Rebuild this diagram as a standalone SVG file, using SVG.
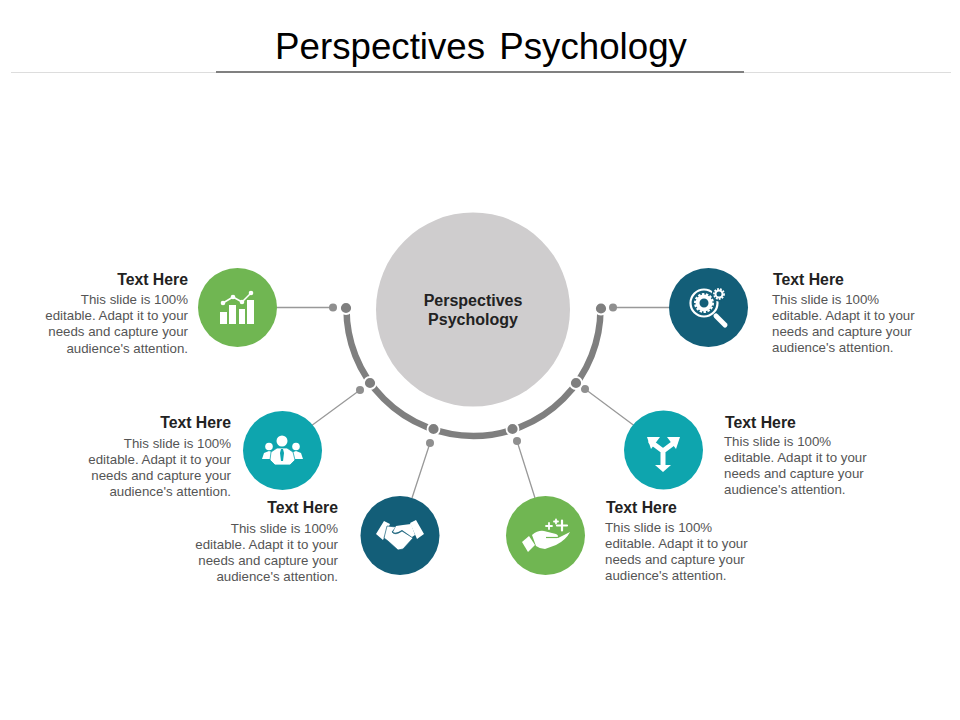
<svg xmlns="http://www.w3.org/2000/svg" width="960" height="720" viewBox="0 0 960 720">
<style>
text{font-family:"Liberation Sans",Arial,sans-serif}
.t{font-size:36.700px;fill:#000;text-anchor:middle;word-spacing:4px}
.c{font-size:16px;font-weight:bold;fill:#222;text-anchor:middle}
.h{font-size:15.800px;font-weight:bold;fill:#222}
.b{font-size:13.300px;fill:#555}
.e{text-anchor:end}
.lk{stroke:#999;stroke-width:1.300;fill:none}
.dot{fill:#8f8f8f}
.big{fill:#7f7f7f;stroke:#fff;stroke-width:1.800}
.arc{fill:none;stroke:#7f7f7f;stroke-width:6.500}
.w{fill:#fff}
.ws{fill:none;stroke:#fff;stroke-linecap:round;stroke-linejoin:round}
.green{fill:#70b652}.teal{fill:#0ea5ae}.navy{fill:#135e78}
</style>
<g id="title">
<rect x="11" y="72" width="940" height="1" fill="#ddd"/>
<rect x="216" y="71" width="528" height="2" fill="#808080"/>
<text class="t" x="481" y="59">Perspectives Psychology</text>
</g>
<g id="connectors">
<path class="arc" d="M346.500 309A127 127 0 0 0 600.500 309"/>
<path class="lk" d="M277 307.500H333M311 426L360 390M412 498L430 443M535 498L517 441M636 427L585 389M669 307.500H613"/>
<circle class="dot" cx="333" cy="307.500" r="4"/>
<circle class="dot" cx="360" cy="390" r="4"/>
<circle class="dot" cx="430" cy="443" r="4"/>
<circle class="dot" cx="517" cy="441" r="4"/>
<circle class="dot" cx="585" cy="389" r="4"/>
<circle class="dot" cx="613" cy="307.500" r="4"/>
<circle class="big" cx="346" cy="308" r="6"/>
<circle class="big" cx="370" cy="383" r="6"/>
<circle class="big" cx="433.500" cy="429" r="6"/>
<circle class="big" cx="512.500" cy="429" r="6"/>
<circle class="big" cx="576" cy="383" r="6"/>
<circle class="big" cx="601" cy="308.500" r="6"/>
</g>
<g id="center">
<circle cx="473" cy="309.500" r="97" fill="#cfcdce"/>
<text class="c" x="473" y="305.500">Perspectives</text>
<text class="c" x="473" y="324.500">Psychology</text>
</g>
<g id="node-1">
<circle class="green" cx="237.500" cy="307.500" r="39.500"/>
<path class="w" d="M220 312h7v12h-7zM229 305h7v19h-7zM239 309h6v15h-6zM247 300h7v24h-7z"/>
<path class="ws" stroke-width="1.500" d="M223 303L233 297L242 302L251 293"/>
<circle class="w" cx="223" cy="303" r="2.300"/><circle class="w" cx="233" cy="297" r="2.300"/><circle class="w" cx="242" cy="302" r="2.300"/><circle class="w" cx="251" cy="293" r="2.300"/>
<text class="h e" x="188" y="284.500">Text Here</text>
<text class="b e" x="188" y="304">This slide is 100%</text>
<text class="b e" x="188" y="320">editable. Adapt it to your</text>
<text class="b e" x="188" y="336">needs and capture your</text>
<text class="b e" x="188" y="353">audience's attention.</text>
</g>
<g id="node-2">
<circle class="teal" cx="282.500" cy="450.500" r="39.500"/>
<path class="w" d="M262 459L264 453L269 451L274 453V459ZM303 459L301 453L296 451L291 453V459Z"/>
<circle class="w" cx="269" cy="446.500" r="3.800"/><circle class="w" cx="296" cy="446.500" r="3.800"/>
<path class="w" d="M270 460L271 452L277 448H287L293 452L295 460L290 465H275Z" stroke="#0ea5ae" stroke-width="0.800"/>
<circle class="w" cx="282" cy="441" r="5.500"/>
<path d="M281 449h2l1 4l-1 8h-2l-1-8z" fill="#0ea5ae"/>
<text class="h e" x="231" y="427.500">Text Here</text>
<text class="b e" x="231" y="448">This slide is 100%</text>
<text class="b e" x="231" y="464">editable. Adapt it to your</text>
<text class="b e" x="231" y="480">needs and capture your</text>
<text class="b e" x="231" y="496">audience's attention.</text>
</g>
<g id="node-3">
<circle class="navy" cx="400" cy="535.500" r="39.500"/>
<path class="w" d="M376 534L384 521L390 524L383 540ZM424 534L416 520L410 523L417 539Z"/>
<path class="w" d="M387 526L396 527L392 532Q395 536 402 531L413 538L403 549L398 550L388 541L384 538Z" stroke="#135e78" stroke-width="0.700"/>
<path class="w" d="M396 526L403 525L411 524L415 535L412 537L402 530Q396 534 393 532Z"/>
<text class="h e" x="338" y="512.500">Text Here</text>
<text class="b e" x="338" y="533">This slide is 100%</text>
<text class="b e" x="338" y="549">editable. Adapt it to your</text>
<text class="b e" x="338" y="565">needs and capture your</text>
<text class="b e" x="338" y="581">audience's attention.</text>
</g>
<g id="node-4">
<circle class="green" cx="545.500" cy="535.500" r="39.500"/>
<path class="w" d="M522 542L529 536L535 545L528 552Z"/>
<path class="w" d="M532 535Q538 530 544 531L556 534Q560 536 556 538L546 538L558 538L570 532Q566 540 556 545L545 549Q540 549 536 546Z"/>
<path d="M546 537.500H557" stroke="#70b652" stroke-width="1.200"/>
<path class="ws" stroke-width="1.800" stroke-linecap="butt" d="M546 526h6M549 523v6M554 521.500h4M556 519.500v4"/>
<path class="ws" stroke-width="2.200" stroke-linecap="butt" d="M557 525.500h10M562 520.500v10"/>
<text class="h" x="606" y="512.500">Text Here</text>
<text class="b" x="605" y="532">This slide is 100%</text>
<text class="b" x="605" y="548">editable. Adapt it to your</text>
<text class="b" x="605" y="564">needs and capture your</text>
<text class="b" x="605" y="580">audience's attention.</text>
</g>
<g id="node-5">
<circle class="teal" cx="663.500" cy="450" r="39.500"/>
<path class="ws" stroke-width="5" stroke-linecap="butt" d="M663 466V451L651 442M663 451L675 442"/>
<path class="w" d="M647 437L660 437L651 449ZM680 437L667 437L676 449ZM655 465H671L663 472Z"/>
<text class="h" x="725" y="427.500">Text Here</text>
<text class="b" x="724" y="446">This slide is 100%</text>
<text class="b" x="724" y="462">editable. Adapt it to your</text>
<text class="b" x="724" y="478">needs and capture your</text>
<text class="b" x="724" y="494">audience's attention.</text>
</g>
<g id="node-6">
<circle class="navy" cx="708.500" cy="307.500" r="39.500"/>
<circle class="ws" cx="704" cy="303" r="13.500" stroke-width="2.200"/>
<circle cx="704" cy="303" r="6.500" fill="none" stroke="#fff" stroke-width="4"/>
<circle cx="704" cy="303" r="9" fill="none" stroke="#fff" stroke-width="2" stroke-dasharray="2.500 1.500"/>
<circle class="navy" cx="719" cy="294" r="7.500"/>
<circle cx="719" cy="294" r="3.500" fill="none" stroke="#fff" stroke-width="2"/>
<circle cx="719" cy="294" r="5" fill="none" stroke="#fff" stroke-width="1.800" stroke-dasharray="1.800 1.200"/>
<path class="ws" stroke-width="5" d="M716 316L725 325"/>
<text class="h" x="773" y="284.500">Text Here</text>
<text class="b" x="772" y="303.500">This slide is 100%</text>
<text class="b" x="772" y="319.500">editable. Adapt it to your</text>
<text class="b" x="772" y="335.500">needs and capture your</text>
<text class="b" x="772" y="352">audience's attention.</text>
</g>
</svg>
